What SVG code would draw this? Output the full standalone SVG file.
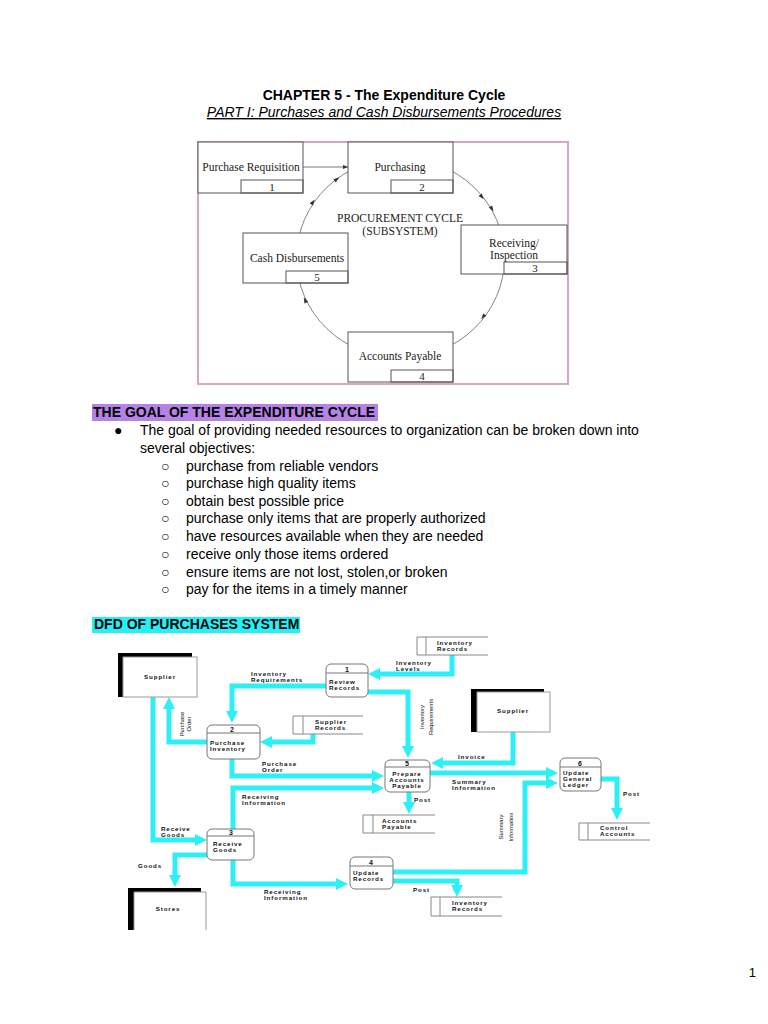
<svg xmlns="http://www.w3.org/2000/svg" width="768" height="1024" viewBox="0 0 768 1024">
<style>
.t{font-family:"Liberation Sans",Arial,sans-serif;fill:#000}
.ser{font-family:"Liberation Serif","Times New Roman",serif;fill:#222;font-size:11.5px}
.num{font-family:"Liberation Serif","Times New Roman",serif;fill:#222;font-size:11px;text-anchor:middle}
.box{fill:#fff;stroke:#555;stroke-width:1}
.nb{fill:none;stroke:#555;stroke-width:1}
.d{font-family:"Liberation Sans",Arial,sans-serif;font-size:6.2px;font-weight:bold;letter-spacing:0.9px;fill:#111}
.dn{font-family:"Liberation Sans",Arial,sans-serif;font-size:7px;font-weight:bold;fill:#111;text-anchor:middle}
.dr{font-family:"Liberation Sans",Arial,sans-serif;font-size:5.8px;fill:#111;text-anchor:middle}
.proc{fill:#fff;stroke:#777;stroke-width:1}
.store{fill:none;stroke:#888;stroke-width:1}
.flow{fill:none;stroke:#2cf0f6;stroke-width:5;marker-end:url(#ah)}
.li{font-family:"Liberation Sans",Arial,sans-serif;font-size:14px;fill:#000}
</style>
<defs>
<marker id="ah" markerUnits="userSpaceOnUse" markerWidth="12" markerHeight="12" refX="2" refY="6" orient="auto">
<path d="M0,0 L12,6 L0,12 z" fill="#2cf0f6"/>
</marker>
<marker id="sa" markerUnits="userSpaceOnUse" markerWidth="6" markerHeight="6" refX="5" refY="3" orient="auto">
<path d="M0,1 L5,3 L0,5 z" fill="#333"/>
</marker>
</defs>
<rect width="768" height="1024" fill="#fff"/>

<!-- Titles -->
<text class="t" x="384" y="100" font-size="14" font-weight="bold" text-anchor="middle">CHAPTER 5 - The Expenditure Cycle</text>
<text class="t" x="384" y="117" font-size="14" font-style="italic" text-anchor="middle" text-decoration="underline">PART I: Purchases and Cash Disbursements Procedures</text>

<!-- Procurement cycle figure -->
<rect x="198" y="142" width="370" height="242" fill="none" stroke="#d6a6c6" stroke-width="2"/>
<g id="cycle-links">
<ellipse cx="400.5" cy="258" rx="104" ry="100" fill="none" stroke="#666" stroke-width="0.8"/>
<line x1="303" y1="167" x2="348" y2="167" stroke="#555" stroke-width="0.8" marker-end="url(#sa)"/>
<g fill="#333">
<polygon points="3,0 -3,-2 -3,2" transform="translate(313,202) rotate(-55)"/>
<polygon points="3,0 -3,-2 -3,2" transform="translate(337,179) rotate(-37)"/>
<polygon points="3,0 -3,-2 -3,2" transform="translate(482,197) rotate(51)"/>
<polygon points="3,0 -3,-2 -3,2" transform="translate(492,209) rotate(59)"/>
<polygon points="3,0 -3,-2 -3,2" transform="translate(483,317) rotate(128)"/>
<polygon points="3,0 -3,-2 -3,2" transform="translate(305,300) rotate(-115)"/>
</g>
</g>
<g id="c1">
<rect class="box" x="198" y="142" width="105" height="51"/>
<rect class="nb" x="241" y="180" width="62" height="13"/>
<text class="ser" x="251" y="171" text-anchor="middle">Purchase Requisition</text>
<text class="num" x="272" y="191">1</text>
</g>
<g id="c2">
<rect class="box" x="348" y="142" width="105" height="51"/>
<rect class="nb" x="391" y="180" width="62" height="13"/>
<text class="ser" x="400" y="171" text-anchor="middle">Purchasing</text>
<text class="num" x="422" y="191">2</text>
</g>
<g id="c3">
<rect class="box" x="461" y="225" width="106" height="49"/>
<rect class="nb" x="504" y="262" width="63" height="12"/>
<text class="ser" x="514" y="247" text-anchor="middle">Receiving/</text>
<text class="ser" x="514" y="259" text-anchor="middle">Inspection</text>
<text class="num" x="535" y="272">3</text>
</g>
<g id="c4">
<rect class="box" x="348" y="332" width="105" height="50"/>
<rect class="nb" x="391" y="370" width="62" height="12"/>
<text class="ser" x="400" y="360" text-anchor="middle">Accounts Payable</text>
<text class="num" x="422" y="380">4</text>
</g>
<g id="c5">
<rect class="box" x="243" y="233" width="105" height="50"/>
<rect class="nb" x="286" y="271" width="62" height="12"/>
<text class="ser" x="297" y="262" text-anchor="middle">Cash Disbursements</text>
<text class="num" x="317" y="281">5</text>
</g>
<text class="ser" x="400" y="222" text-anchor="middle">PROCUREMENT CYCLE</text>
<text class="ser" x="400" y="235" text-anchor="middle">(SUBSYSTEM)</text>

<!-- Goal section -->
<rect x="92" y="404" width="286" height="17" fill="#b583e6"/>
<text class="t" x="93" y="417" font-size="14" font-weight="bold">THE GOAL OF THE EXPENDITURE CYCLE</text>
<text class="li" x="114" y="435">●</text>
<text class="li" x="140" y="435">The goal of providing needed resources to organization can be broken down into</text>
<text class="li" x="140" y="453">several objectives:</text>
<g>
<text class="li" x="161" y="470.5" font-size="11">○</text>
<text class="li" x="186" y="470.5">purchase from reliable vendors</text>
<text class="li" x="161" y="488" font-size="11">○</text>
<text class="li" x="186" y="488">purchase high quality items</text>
<text class="li" x="161" y="505.5" font-size="11">○</text>
<text class="li" x="186" y="505.5">obtain best possible price</text>
<text class="li" x="161" y="523" font-size="11">○</text>
<text class="li" x="186" y="523">purchase only items that are properly authorized</text>
<text class="li" x="161" y="541" font-size="11">○</text>
<text class="li" x="186" y="541">have resources available when they are needed</text>
<text class="li" x="161" y="558.5" font-size="11">○</text>
<text class="li" x="186" y="558.5">receive only those items ordered</text>
<text class="li" x="161" y="576.5" font-size="11">○</text>
<text class="li" x="186" y="576.5">ensure items are not lost, stolen,or broken</text>
<text class="li" x="161" y="594" font-size="11">○</text>
<text class="li" x="186" y="594">pay for the items in a timely manner</text>
</g>

<!-- DFD section -->
<rect x="92" y="617" width="208" height="16" fill="#22f2f8"/>
<text class="t" x="94" y="629" font-size="14" font-weight="bold">DFD OF PURCHASES SYSTEM</text>

<g id="connectors">
<path class="flow" d="M452,655 V674 H378"/>
<path class="flow" d="M326,686 H232 V713"/>
<path class="flow" d="M368,692 H408 V748"/>
<path class="flow" d="M207,742 H169 V707"/>
<path class="flow" d="M313,734 V742 H270"/>
<path class="flow" d="M232,759 V776 H374"/>
<path class="flow" d="M233,829 V788 H374"/>
<path class="flow" d="M153,697 V840 H197"/>
<path class="flow" d="M207,855 H175 V877"/>
<path class="flow" d="M233,860 V884 H338"/>
<path class="flow" d="M393,872 H525 V783 H548"/>
<path class="flow" d="M393,881 H457 V887"/>
<path class="flow" d="M513,732 V763 H441"/>
<path class="flow" d="M430,773 H548"/>
<path class="flow" d="M409,792 V804"/>
<path class="flow" d="M601,779 H617 V810"/>
</g>

<g id="flow-labels">
<text class="d" x="396" y="664.5">Inventory</text>
<text class="d" x="396" y="670.5">Levels</text>
<text class="d" x="251" y="675.5">Inventory</text>
<text class="d" x="251" y="681.5">Requirements</text>
<text class="dr" transform="translate(183.5,724) rotate(-90)">Purchase</text>
<text class="dr" transform="translate(190.5,724) rotate(-90)">Order</text>
<text class="dr" transform="translate(424,717) rotate(-90)">Inventory</text>
<text class="dr" transform="translate(433,717) rotate(-90)">Requirements</text>
<text class="d" x="262" y="765.5">Purchase</text>
<text class="d" x="262" y="771.5">Order</text>
<text class="d" x="458" y="758.5">Invoice</text>
<text class="d" x="452" y="783.5">Summary</text>
<text class="d" x="452" y="789.5">Information</text>
<text class="d" x="623" y="795.5">Post</text>
<text class="d" x="242" y="798.5">Receiving</text>
<text class="d" x="242" y="804.5">Information</text>
<text class="d" x="414" y="801.5">Post</text>
<text class="dr" transform="translate(503,827) rotate(-90)">Summary</text>
<text class="dr" transform="translate(513,827) rotate(-90)">Information</text>
<text class="d" x="161" y="830.5">Receive</text>
<text class="d" x="161" y="836.5">Goods</text>
<text class="d" x="138" y="867.5">Goods</text>
<text class="d" x="264" y="894">Receiving</text>
<text class="d" x="264" y="900">Information</text>
<text class="d" x="413" y="891.5">Post</text>
</g>

<g id="supplier-left">
<rect x="118" y="653" width="74" height="44" fill="#000"/>
<rect x="123" y="657" width="74" height="40" fill="#fff" stroke="#999" stroke-width="1"/>
<text class="d" x="160" y="679" text-anchor="middle">Supplier</text>
</g>
<g id="supplier-right">
<rect x="471" y="689" width="73" height="43" fill="#000"/>
<rect x="477" y="692" width="73" height="40" fill="#fff" stroke="#999" stroke-width="1"/>
<text class="d" x="513" y="712.5" text-anchor="middle">Supplier</text>
</g>
<g id="stores">
<rect x="128" y="888" width="73" height="42" fill="#000"/>
<rect x="134" y="892" width="72" height="42" fill="#fff"/>
<path d="M134,930 V892 H206 V930" fill="none" stroke="#999" stroke-width="1"/>
<text class="d" x="168" y="910.5" text-anchor="middle">Stores</text>
</g>

<g id="store-inventory-top">
<path class="store" d="M488,637 H417 V655 H488 M426,637 V655"/>
<text class="d" x="437" y="645">Inventory</text>
<text class="d" x="437" y="651">Records</text>
</g>
<g id="store-supplier-records">
<path class="store" d="M363,716 H293 V734 H363 M303,716 V734"/>
<text class="d" x="315" y="724">Supplier</text>
<text class="d" x="315" y="730">Records</text>
</g>
<g id="store-accounts-payable">
<path class="store" d="M435,815 H363 V833 H435 M373,815 V833"/>
<text class="d" x="382" y="822.5">Accounts</text>
<text class="d" x="382" y="828.5">Payable</text>
</g>
<g id="store-control-accounts">
<path class="store" d="M650,823 H579 V840 H650 M588,823 V840"/>
<text class="d" x="600" y="830">Control</text>
<text class="d" x="600" y="836">Accounts</text>
</g>
<g id="store-inventory-bottom">
<path class="store" d="M502,897 H431 V916 H502 M440,897 V916"/>
<text class="d" x="452" y="904.5">Inventory</text>
<text class="d" x="452" y="910.5">Records</text>
</g>

<g id="p1">
<rect class="proc" x="326" y="664" width="42" height="33" rx="5"/>
<line x1="326" y1="673" x2="368" y2="673" stroke="#777" stroke-width="1"/>
<text class="dn" x="347" y="671.5">1</text>
<text class="d" x="329" y="683.5">Review</text>
<text class="d" x="329" y="689.5">Records</text>
</g>
<g id="p2">
<rect class="proc" x="207" y="725" width="53" height="34" rx="5"/>
<line x1="207" y1="733" x2="260" y2="733" stroke="#777" stroke-width="1"/>
<text class="dn" x="232" y="731.5">2</text>
<text class="d" x="210" y="745">Purchase</text>
<text class="d" x="210" y="751">Inventory</text>
</g>
<g id="p3">
<rect class="proc" x="207" y="829" width="47" height="31" rx="5"/>
<line x1="207" y1="836" x2="254" y2="836" stroke="#777" stroke-width="1"/>
<text class="dn" x="231" y="834.5">3</text>
<text class="d" x="213" y="846">Receive</text>
<text class="d" x="213" y="852">Goods</text>
</g>
<g id="p4">
<rect class="proc" x="350" y="857" width="43" height="32" rx="5"/>
<line x1="350" y1="866" x2="393" y2="866" stroke="#777" stroke-width="1"/>
<text class="dn" x="371" y="864.5">4</text>
<text class="d" x="353" y="875">Update</text>
<text class="d" x="353" y="881">Records</text>
</g>
<g id="p5">
<rect class="proc" x="385" y="760" width="45" height="32" rx="5"/>
<line x1="385" y1="767" x2="430" y2="767" stroke="#777" stroke-width="1"/>
<text class="dn" x="407" y="766">5</text>
<text class="d" x="407" y="776" text-anchor="middle">Prepare</text>
<text class="d" x="407" y="782" text-anchor="middle">Accounts</text>
<text class="d" x="407" y="788" text-anchor="middle">Payable</text>
</g>
<g id="p6">
<rect class="proc" x="560" y="758" width="41" height="33" rx="5"/>
<line x1="560" y1="767" x2="601" y2="767" stroke="#777" stroke-width="1"/>
<text class="dn" x="580" y="765.5">6</text>
<text class="d" x="563" y="775">Update</text>
<text class="d" x="563" y="781">General</text>
<text class="d" x="563" y="787">Ledger</text>
</g>

<text class="t" x="756" y="977" font-size="13" text-anchor="end">1</text>
</svg>
